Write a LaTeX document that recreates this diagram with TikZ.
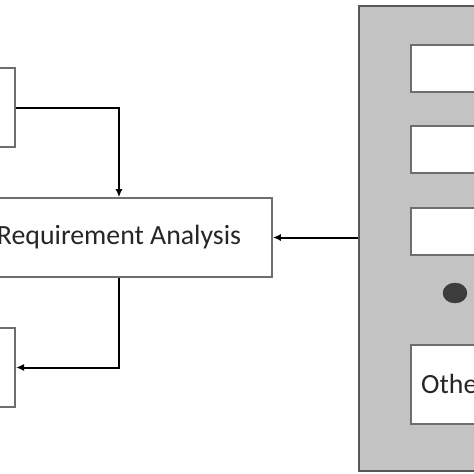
\documentclass[tikz,border=0pt]{standalone}
\usepackage{fontspec}
\setmainfont{Carlito}
\usetikzlibrary{positioning, arrows.meta, shapes.geometric}
\definecolor{boxGray}{HTML}{6E6E6E}
\definecolor{panelGray}{HTML}{C3C3C3}
\definecolor{panelEdge}{HTML}{575757}
\definecolor{dotGray}{HTML}{3C3C3C}

\begin{document}
\begin{tikzpicture}[x=1pt, y=1pt,
    blk/.style={draw=boxGray, fill=white, line width=1.6pt, inner sep=0pt,
      font=\fontsize{27.8}{32}\selectfont, text=black!85},
    src/.style={blk, minimum width=140pt, minimum height=47pt, anchor=north west},
    dot/.style={ellipse, fill=dotGray, draw=black!80, minimum width=24pt, minimum height=20pt,
      inner sep=0pt},
    arr/.style={-{Latex[length=8pt, width=7pt]}, black, line width=2pt}]
    \useasboundingbox (0,0) rectangle (474,-474);
    \clip (0,0) rectangle (474,-474);
    % left column
    \node[blk, minimum width=120pt, minimum height=79pt, anchor=east] (top) at (16,-107.5) {};
    \node[blk, minimum width=120pt, minimum height=79pt, anchor=east] (bot) at (16,-367.5) {};
    \node[blk, minimum width=306pt, minimum height=79pt] (req) at (119,-237.5) {Requirement Analysis};
    % right panel
    \node[draw=panelEdge, fill=panelGray, line width=1.6pt, minimum width=200pt,
      minimum height=465pt, anchor=north west] (panel) at (358,-5) {};
    \node[src] (s1) at (410,-44) {};
    \node[src] (s2) at (410,-125) {};
    \node[src] (s3) at (410,-207) {};
    \node[dot] (d1) at (455,-293) {};
    \node[dot, right=7pt of d1] (d2) {};
    \node[src, minimum height=79pt, minimum width=160pt] (oth) at (410,-344) {};
    \node[font=\fontsize{27.8}{32}\selectfont, text=black!85, anchor=west, inner sep=0pt]
      (othtxt) at (421,-383.5) {Other};
    % connectors
    \draw[arr] (top.east) -| (req.north);
    \draw[arr] (req.south) |- (bot.east);
    \draw[arr] (panel.west |- req.east) -- (req.east);
\end{tikzpicture}
\end{document}
